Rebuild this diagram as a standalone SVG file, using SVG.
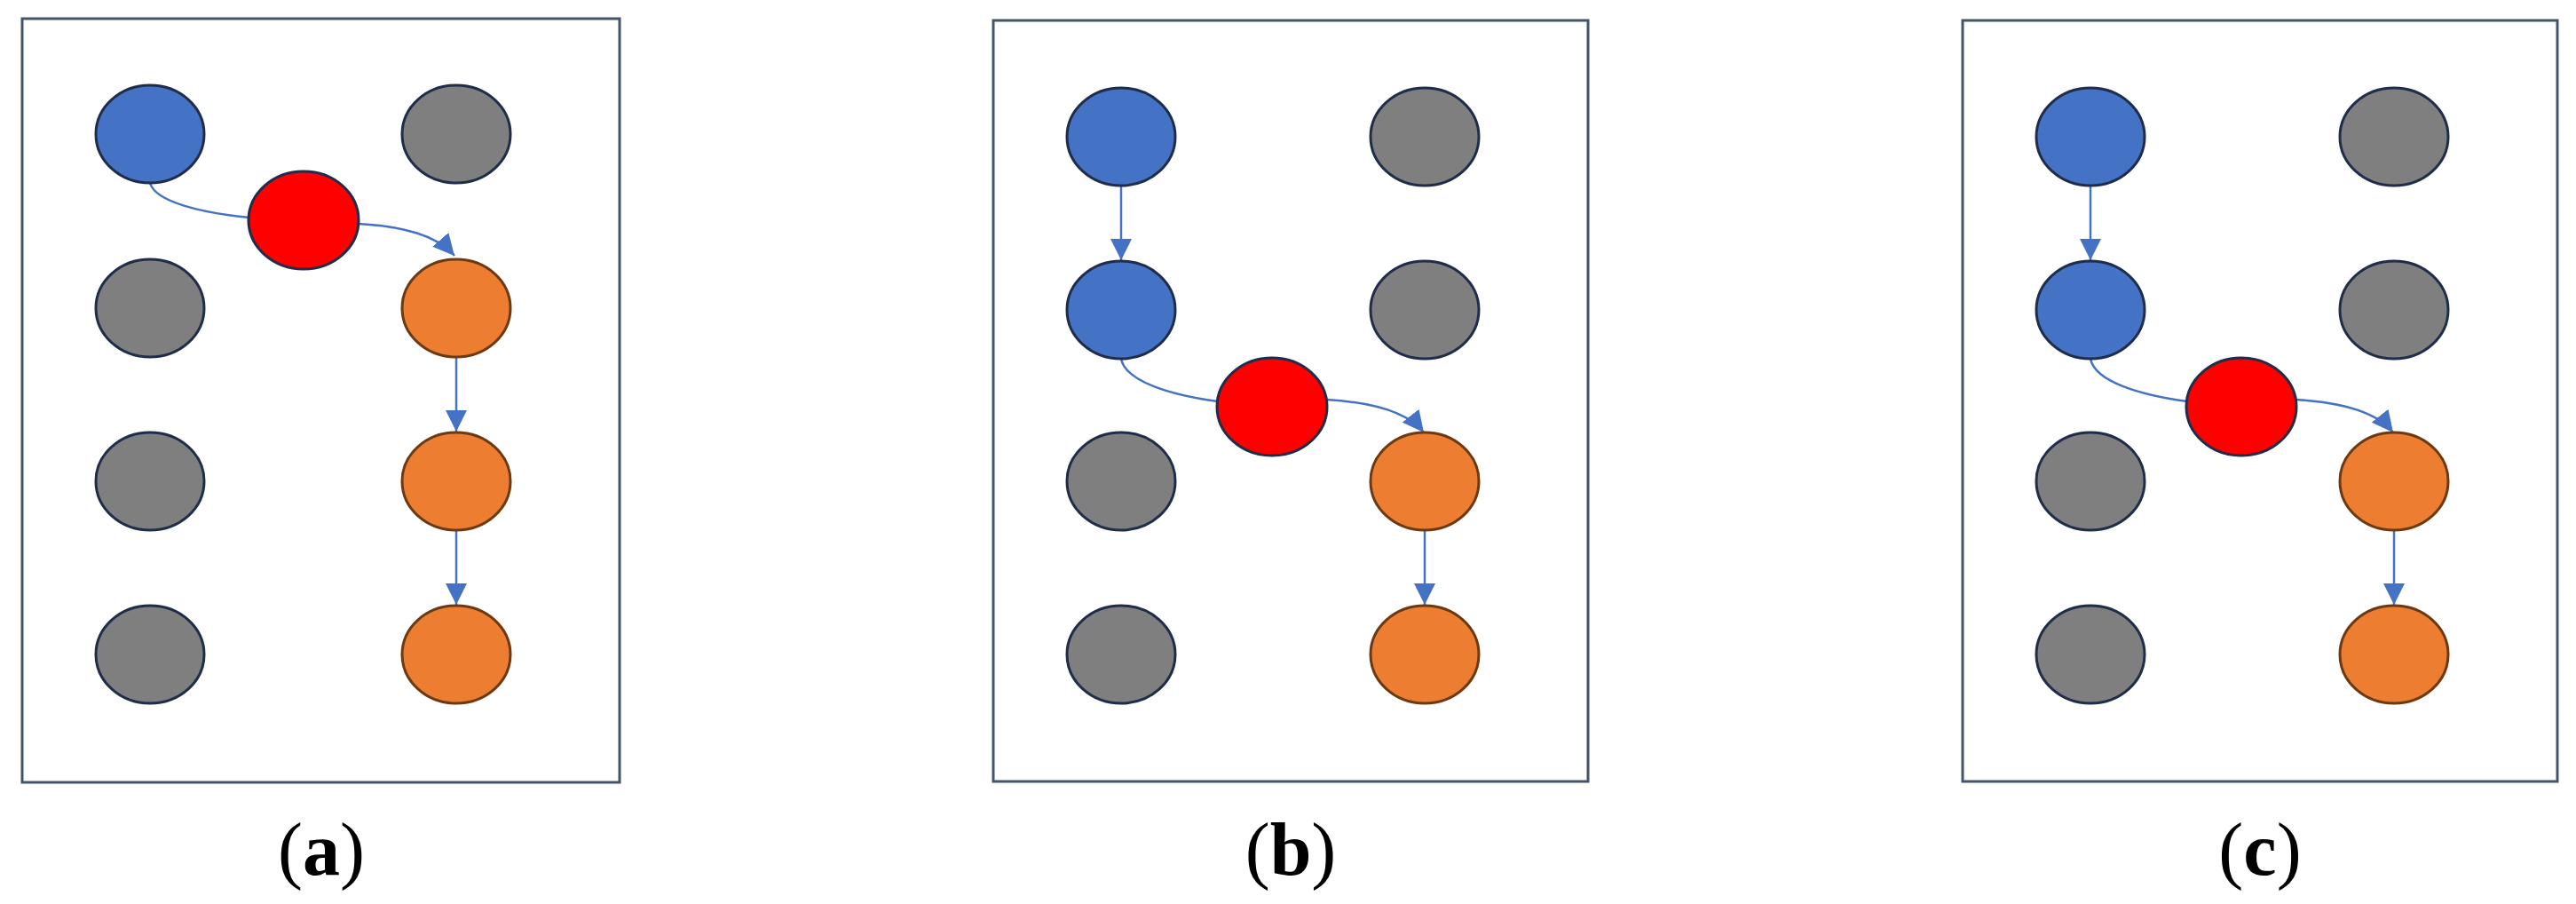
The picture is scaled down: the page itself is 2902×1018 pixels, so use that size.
<svg xmlns="http://www.w3.org/2000/svg" width="2902" height="1018" viewBox="0 0 2902 1018">
<style>
.frame{fill:#fff;stroke:#44546A;stroke-width:3}
.b{fill:#4472C4;stroke:#1F2D4A;stroke-width:3}
.g{fill:#7F7F7F;stroke:#1F2D4A;stroke-width:3}
.o{fill:#ED7D31;stroke:#6B3A12;stroke-width:3}
.r{fill:#FF0000;stroke:#1F2D4A;stroke-width:3}
.e{fill:none;stroke:#4472C4;stroke-width:2.5}
.lbl{font-family:"Liberation Serif",serif;font-size:84px;text-anchor:middle}
</style>
<defs>
<marker id="ah" markerUnits="userSpaceOnUse" markerWidth="24" markerHeight="24" viewBox="0 0 24 24" refX="24" refY="12" orient="auto">
<path d="M0,0 L24,12 L0,24 Z" fill="#4472C4"/>
</marker>
</defs>
<rect class="frame" x="25" y="21" width="673" height="860"/>
<rect class="frame" x="1119" y="23" width="670" height="857"/>
<rect class="frame" x="2211" y="23" width="670" height="857"/>
<g id="connectors">
<path class="e" d="M169,206 C175,228 230,240 281,245"/>
<path class="e" d="M404,252 C455,255 492,265 512,288" marker-end="url(#ah)"/>
<path class="e" d="M514,402 L514,486" marker-end="url(#ah)"/>
<path class="e" d="M514,597 L514,681" marker-end="url(#ah)"/>
<path class="e" d="M1263,209 L1263,293" marker-end="url(#ah)"/>
<path class="e" d="M1263,404 C1268,430 1320,445 1372,452"/>
<path class="e" d="M1494,450 C1545,453 1585,463 1604,487" marker-end="url(#ah)"/>
<path class="e" d="M1605,597 L1605,681" marker-end="url(#ah)"/>
<path class="e" d="M2355,209 L2355,293" marker-end="url(#ah)"/>
<path class="e" d="M2355,404 C2360,430 2412,445 2464,452"/>
<path class="e" d="M2586,450 C2637,453 2677,463 2696,487" marker-end="url(#ah)"/>
<path class="e" d="M2697,597 L2697,681" marker-end="url(#ah)"/>
</g>
<g id="a-n1"><ellipse class="b" cx="169" cy="151" rx="61" ry="55"/></g>
<g id="a-n2"><ellipse class="g" cx="514" cy="151" rx="61" ry="55"/></g>
<g id="a-n3"><ellipse class="g" cx="169" cy="347" rx="61" ry="55"/></g>
<g id="a-n4"><ellipse class="o" cx="514" cy="347" rx="61" ry="55"/></g>
<g id="a-n5"><ellipse class="g" cx="169" cy="542" rx="61" ry="55"/></g>
<g id="a-n6"><ellipse class="o" cx="514" cy="542" rx="61" ry="55"/></g>
<g id="a-n7"><ellipse class="g" cx="169" cy="737" rx="61" ry="55"/></g>
<g id="a-n8"><ellipse class="o" cx="514" cy="737" rx="61" ry="55"/></g>
<g id="a-red"><ellipse class="r" cx="342" cy="248" rx="62" ry="55"/></g>
<g id="b-n1"><ellipse class="b" cx="1263" cy="154" rx="61" ry="55"/></g>
<g id="b-n2"><ellipse class="g" cx="1605" cy="154" rx="61" ry="55"/></g>
<g id="b-n3"><ellipse class="b" cx="1263" cy="349" rx="61" ry="55"/></g>
<g id="b-n4"><ellipse class="g" cx="1605" cy="349" rx="61" ry="55"/></g>
<g id="b-n5"><ellipse class="g" cx="1263" cy="542" rx="61" ry="55"/></g>
<g id="b-n6"><ellipse class="o" cx="1605" cy="542" rx="61" ry="55"/></g>
<g id="b-n7"><ellipse class="g" cx="1263" cy="737" rx="61" ry="55"/></g>
<g id="b-n8"><ellipse class="o" cx="1605" cy="737" rx="61" ry="55"/></g>
<g id="b-red"><ellipse class="r" cx="1433" cy="458" rx="62" ry="55"/></g>
<g id="c-n1"><ellipse class="b" cx="2355" cy="154" rx="61" ry="55"/></g>
<g id="c-n2"><ellipse class="g" cx="2697" cy="154" rx="61" ry="55"/></g>
<g id="c-n3"><ellipse class="b" cx="2355" cy="349" rx="61" ry="55"/></g>
<g id="c-n4"><ellipse class="g" cx="2697" cy="349" rx="61" ry="55"/></g>
<g id="c-n5"><ellipse class="g" cx="2355" cy="542" rx="61" ry="55"/></g>
<g id="c-n6"><ellipse class="o" cx="2697" cy="542" rx="61" ry="55"/></g>
<g id="c-n7"><ellipse class="g" cx="2355" cy="737" rx="61" ry="55"/></g>
<g id="c-n8"><ellipse class="o" cx="2697" cy="737" rx="61" ry="55"/></g>
<g id="c-red"><ellipse class="r" cx="2525" cy="458" rx="62" ry="55"/></g>
<text class="lbl" x="362" y="985">(<tspan font-weight="bold">a</tspan>)</text>
<text class="lbl" x="1454" y="985">(<tspan font-weight="bold">b</tspan>)</text>
<text class="lbl" x="2546" y="985">(<tspan font-weight="bold">c</tspan>)</text>
</svg>
